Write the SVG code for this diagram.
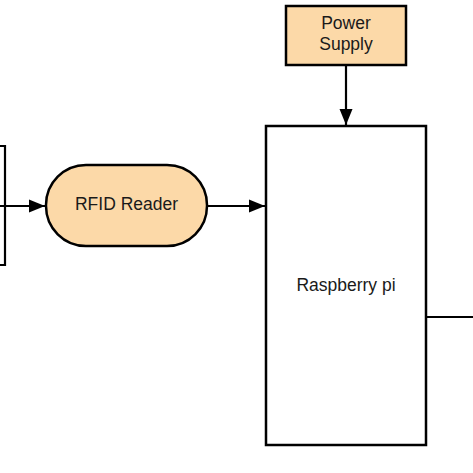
<svg xmlns="http://www.w3.org/2000/svg" width="473" height="473" viewBox="0 0 473 473">
<style>
.n{fill:#fcd9a8;stroke:#000;stroke-width:2.5}
.w{fill:#fff;stroke:#000;stroke-width:2.5}
.t{font-family:"Liberation Sans",Arial,sans-serif;font-size:17.5px;fill:#1a1a1a;text-anchor:middle}
.c{stroke:#000;stroke-width:2.2;fill:none}
</style>
<defs>
<marker id="a" markerWidth="17" markerHeight="14" refX="16" refY="7" orient="auto" markerUnits="userSpaceOnUse" viewBox="0 0 17 14">
<path d="M0,0.5 L16,7 L0,13.5 Z" fill="#000"/>
</marker>
</defs>
<rect width="473" height="473" fill="#fff"/>
<g id="left-box"><path class="c" d="M-2,146 H5 V265 H-2"/></g>
<g id="rfid"><rect class="n" x="46" y="165" width="161" height="81" rx="40"/><text class="t" x="126.5" y="210">RFID Reader</text></g>
<g id="power"><rect class="n" x="286" y="6" width="120" height="59"/><text class="t" x="346" y="29">Power</text><text class="t" x="346" y="50">Supply</text></g>
<g id="rpi"><rect class="w" x="266" y="126" width="160" height="319"/><text class="t" x="346" y="291">Raspberry pi</text></g>
<g id="connectors">
<line class="c" x1="0" y1="206" x2="45" y2="206" marker-end="url(#a)"/>
<line class="c" x1="207" y1="206" x2="265" y2="206" marker-end="url(#a)"/>
<line class="c" x1="346" y1="65" x2="346" y2="125" marker-end="url(#a)"/>
<line class="c" x1="426" y1="317" x2="473" y2="317"/>
</g>
</svg>
